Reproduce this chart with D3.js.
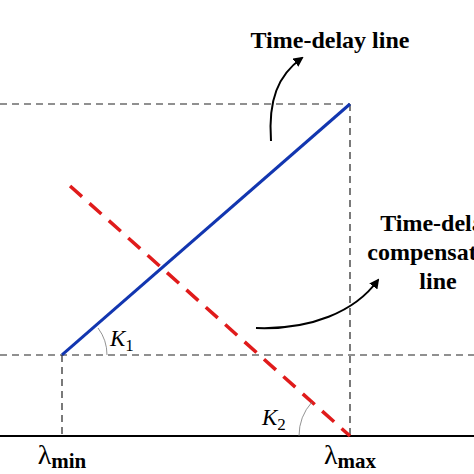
<!DOCTYPE html>
<html><head><meta charset="utf-8">
<script src="https://cdn.jsdelivr.net/npm/d3@7"></script>
<style>body{margin:0;background:#fff}svg{display:block}text{font-family:"Liberation Serif",serif}</style>
</head><body>
<script>
// normalized wavelength / delay values
const lambdaTicks = [{x: 0, label: "min"}, {x: 1, label: "max"}];
const delayLine = [{x: 0, y: 0.244}, {x: 1, y: 1}];
const compLine = [{x: 0.028, y: 0.753}, {x: 1, y: 0}];

const W = 474, H = 474;
const svg = d3.select("body").append("svg").attr("width", W).attr("height", H);

const x = d3.scaleLinear().domain([0, 1]).range([62, 350]);
const y = d3.scaleLinear().domain([0, 1]).range([436, 104]);

svg.append("defs").append("marker").attr("id", "ah")
  .attr("viewBox", "0 0 10 10").attr("refX", 8).attr("refY", 5)
  .attr("markerWidth", 5).attr("markerHeight", 5).attr("orient", "auto")
  .append("path").attr("d", "M0,0L10,5L0,10z").attr("fill", "#000");

let dash = (x1, y1, x2, y2) => svg.append("line")
  .attr("x1", x1).attr("y1", y1).attr("x2", x2).attr("y2", y2)
  .attr("stroke", "#222").attr("stroke-width", 1.2).attr("stroke-dasharray", "7,5");

// guides
dash(0, y(1), x(1), y(1));
dash(x(1), y(1), x(1), y(0));
dash(0, y(delayLine[0].y), W, y(delayLine[0].y));
dash(x(0), y(delayLine[0].y), x(0), y(0));

// baseline axis
svg.append("line").attr("x1", 0).attr("x2", W).attr("y1", y(0)).attr("y2", y(0))
  .attr("stroke", "#000").attr("stroke-width", 2);

let line = d3.line().x((d) => x(d.x)).y((d) => y(d.y));
svg.append("path").datum(delayLine).attr("d", line).attr("fill", "none")
  .attr("stroke", "#1236b0").attr("stroke-width", 3);
svg.append("path").datum(compLine).attr("d", line).attr("fill", "none")
  .attr("stroke", "#e01b1b").attr("stroke-width", 3.5).attr("stroke-dasharray", "16,10");

// angle arcs
svg.append("path").attr("d", `M${x(0) + 45},${y(delayLine[0].y)} A45,45 0 0 0 ${x(0) + 36},${y(delayLine[0].y) - 27}`)
  .attr("fill", "none").attr("stroke", "#777").attr("stroke-width", 0.8);
svg.append("path").attr("d", `M${x(1) - 51},${y(0)} A51,51 0 0 1 ${x(1) - 38},${y(0) - 34}`)
  .attr("fill", "none").attr("stroke", "#777").attr("stroke-width", 0.8);

let kLabel = (px, py, sub) => {
  let t = svg.append("text").attr("x", px).attr("y", py).attr("font-size", 23);
  t.append("tspan").attr("font-style", "italic").text("K");
  t.append("tspan").attr("font-size", 17).attr("dy", 5).text(sub);
};
kLabel(110, 346, "1");
kLabel(262, 425, "2");

// lambda labels
lambdaTicks.forEach((d) => {
  let t = svg.append("text").attr("x", x(d.x)).attr("y", 464).attr("text-anchor", "middle")
    .attr("font-size", 28);
  t.append("tspan").text("λ");
  t.append("tspan").attr("font-size", 21).attr("font-weight", "bold").attr("dy", 4).text(d.label);
});

// annotations
svg.append("text").attr("x", 330).attr("y", 48).attr("text-anchor", "middle")
  .attr("font-size", 24).attr("font-weight", "bold").text("Time-delay line");
["Time-delay", "compensation", "line"].forEach((s, i) => {
  svg.append("text").attr("x", 438).attr("y", 231 + i * 29).attr("text-anchor", "middle")
    .attr("font-size", 24).attr("font-weight", "bold").text(s);
});

svg.append("path").attr("d", "M271,141 C268,100 278,75 302,58")
  .attr("fill", "none").attr("stroke", "#000").attr("stroke-width", 2).attr("marker-end", "url(#ah)");
svg.append("path").attr("d", "M256,328 C310,330 355,312 378,280")
  .attr("fill", "none").attr("stroke", "#000").attr("stroke-width", 2).attr("marker-end", "url(#ah)");
</script>
</body></html>
